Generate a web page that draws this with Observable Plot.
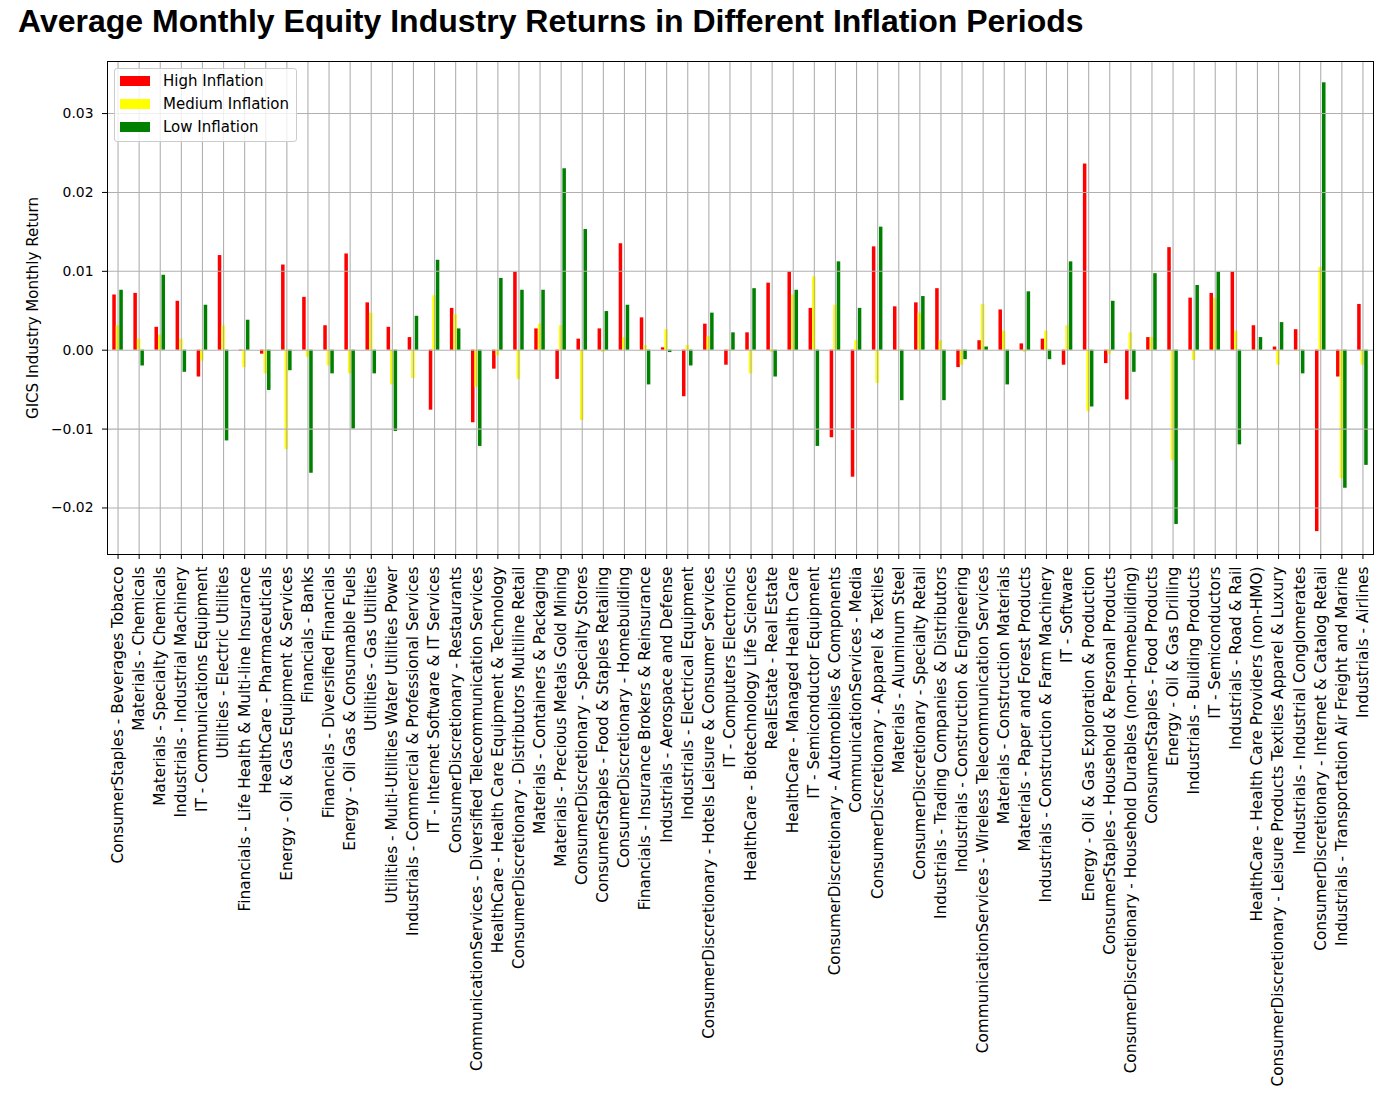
<!DOCTYPE html>
<html><head><meta charset="utf-8">
<script src="https://cdn.jsdelivr.net/npm/d3@7"></script>
<script src="https://cdn.jsdelivr.net/npm/@observablehq/plot@0.6"></script>
<style>
body{margin:0;background:#fff;}
#wrap{position:relative;width:1389px;height:1109px;}
#title{position:absolute;left:18px;top:5px;font-family:"Liberation Sans",Arial,sans-serif;font-weight:bold;font-size:32px;line-height:1;color:#000;white-space:nowrap;}
#legend{position:absolute;left:114px;top:68px;width:181px;height:72px;border:1px solid #cccccc;border-radius:3px;background:rgba(255,255,255,0.8);font-family:"DejaVu Sans",sans-serif;font-size:15px;color:#000;}
.sw{position:absolute;left:5px;width:30px;height:10px;}
.lt{position:absolute;left:48px;line-height:16px;white-space:nowrap;}
#chart svg{display:block;}
#chart g[aria-label="x-axis tick label"] text{font-size:15.3px;}
#chart g[aria-label="y-axis label"] text{font-size:15px;}
</style></head>
<body>
<div id="wrap">
<div id="chart"></div>
<div id="title">Average Monthly Equity Industry Returns in Different Inflation Periods</div>
<div id="legend"></div>
</div>
<script>
const categories = [
"ConsumerStaples - Beverages Tobacco","Materials - Chemicals","Materials - Specialty Chemicals","Industrials - Industrial Machinery","IT - Communications Equipment","Utilities - Electric Utilities","Financials - Life Health & Multi-line Insurance","HealthCare - Pharmaceuticals","Energy - Oil & Gas Equipment & Services","Financials - Banks",
"Financials - Diversified Financials","Energy - Oil Gas & Consumable Fuels","Utilities - Gas Utilities","Utilities - Multi-Utilities Water Utilities Power","Industrials - Commercial & Professional Services","IT - Internet Software & IT Services","ConsumerDiscretionary - Restaurants","CommunicationServices - Diversified Telecommunication Services","HealthCare - Health Care Equipment & Technology","ConsumerDiscretionary - Distributors Multiline Retail",
"Materials - Containers & Packaging","Materials - Precious Metals Gold Mining","ConsumerDiscretionary - Specialty Stores","ConsumerStaples - Food & Staples Retailing","ConsumerDiscretionary - Homebuilding","Financials - Insurance Brokers & Reinsurance","Industrials - Aerospace and Defense","Industrials - Electrical Equipment","ConsumerDiscretionary - Hotels Leisure & Consumer Services","IT - Computers Electronics",
"HealthCare - Biotechnology Life Sciences","RealEstate - Real Estate","HealthCare - Managed Health Care","IT - Semiconductor Equipment","ConsumerDiscretionary - Automobiles & Components","CommunicationServices - Media","ConsumerDiscretionary - Apparel & Textiles","Materials - Aluminum Steel","ConsumerDiscretionary - Specialty Retail","Industrials - Trading Companies & Distributors",
"Industrials - Construction & Engineering","CommunicationServices - Wireless Telecommunication Services","Materials - Construction Materials","Materials - Paper and Forest Products","Industrials - Construction & Farm Machinery","IT - Software","Energy - Oil & Gas Exploration & Production","ConsumerStaples - Household & Personal Products","ConsumerDiscretionary - Household Durables (non-Homebuilding)","ConsumerStaples - Food Products",
"Energy - Oil & Gas Drilling","Industrials - Building Products","IT - Semiconductors","Industrials - Road & Rail","HealthCare - Health Care Providers (non-HMO)","ConsumerDiscretionary - Leisure Products Textiles Apparel & Luxury","Industrials - Industrial Conglomerates","ConsumerDiscretionary - Internet & Catalog Retail","Industrials - Transportation Air Freight and Marine","Industrials - Airlines"
];
const highInflation = [
0.0070,0.0072,0.0029,0.0062,-0.0034,0.0120,-0.0001,-0.0005,0.0108,0.0067,
0.0031,0.0122,0.0060,0.0029,0.0016,-0.0076,0.0053,-0.0092,-0.0024,0.0099,
0.0027,-0.0037,0.0014,0.0027,0.0135,0.0041,0.0003,-0.0059,0.0033,-0.0019,
0.0022,0.0085,0.0099,0.0053,-0.0111,-0.0161,0.0131,0.0055,0.0060,0.0078,
-0.0022,0.0012,0.0051,0.0008,0.0014,-0.0019,0.0236,-0.0017,-0.0063,0.0016,
0.0130,0.0066,0.0072,0.0099,0.0031,0.0004,0.0026,-0.0230,-0.0034,0.0058];
const mediumInflation = [
0.0031,0.0014,0.0019,0.0014,-0.0014,0.0031,-0.0022,-0.0030,-0.0126,-0.0009,
-0.0020,-0.0030,0.0047,-0.0044,-0.0036,0.0069,0.0045,-0.0047,-0.0007,-0.0037,
0.0033,0.0031,-0.0089,-0.0003,0.0016,0.0006,0.0026,0.0006,0.0017,0.0001,
-0.0030,-0.0003,0.0070,0.0093,0.0057,0.0012,-0.0042,0.0001,0.0047,0.0012,
-0.0019,0.0058,0.0024,-0.0003,0.0024,0.0031,-0.0078,-0.0005,0.0022,0.0016,
-0.0140,-0.0013,0.0066,0.0024,0.0001,-0.0019,0.0001,0.0105,-0.0163,-0.0019];
const lowInflation = [
0.0076,-0.0020,0.0095,-0.0028,0.0057,-0.0115,0.0038,-0.0051,-0.0026,-0.0156,
-0.0030,-0.0100,-0.0030,-0.0103,0.0043,0.0114,0.0027,-0.0122,0.0091,0.0076,
0.0076,0.0230,0.0153,0.0049,0.0057,-0.0044,-0.0003,-0.0020,0.0047,0.0022,
0.0078,-0.0034,0.0076,-0.0122,0.0112,0.0053,0.0156,-0.0064,0.0068,-0.0064,
-0.0012,0.0004,-0.0044,0.0074,-0.0012,0.0112,-0.0072,0.0062,-0.0028,0.0097,
-0.0221,0.0082,0.0099,-0.0120,0.0016,0.0035,-0.0030,0.0339,-0.0175,-0.0146];
const seriesNames = ["High Inflation","Medium Inflation","Low Inflation"];
const seriesColors = ["#ff0000","#ffff00","#008000"];
const yTicks = [-0.02,-0.01,0.00,0.01,0.02,0.03];

const seriesValues = [highInflation, mediumInflation, lowInflation];
const table = [];
categories.forEach((c, i) => seriesValues.forEach((vals, j) =>
  table.push({i, j, category: c, series: seriesNames[j], value: vals[i]})));
const bw = 0.5 / 3;
const idx = d3.range(categories.length);

const chart = Plot.plot({
  width: 1389, height: 1105,
  marginTop: 61, marginBottom: 551, marginLeft: 107, marginRight: 16,
  style: {fontFamily: "DejaVu Sans, sans-serif", fontSize: "13.9px", color: "#000", background: "#fff"},
  x: {domain: [-0.5, categories.length - 0.5]},
  y: {domain: [-0.0259, 0.0366]},
  color: {domain: seriesNames, range: seriesColors},
  marks: [
    Plot.rect(table, {
      x1: d => d.i + (d.j - 1) * bw - bw / 2,
      x2: d => d.i + (d.j - 1) * bw + bw / 2,
      y1: d => 0, y2: "value", fill: "series"
    }),
    Plot.gridX(idx, {stroke: "#b0b0b0", strokeOpacity: 1, strokeWidth: 1.1}),
    Plot.gridY(yTicks, {stroke: "#b0b0b0", strokeOpacity: 1, strokeWidth: 1.1}),
    Plot.frame({stroke: "#000", strokeWidth: 1}),
    Plot.axisX({ticks: idx, tickFormat: i => categories[i], tickRotate: -90, tickSize: 5, tickPadding: 7, label: null, ariaLabel: "x-axis"}),
    Plot.axisY({ticks: yTicks, tickFormat: d3.format(".2f"), tickSize: 5, tickPadding: 9,
      label: "GICS Industry Monthly Return", labelAnchor: "center", labelArrow: "none", labelOffset: 80})
  ]
});
document.getElementById("chart").appendChild(chart);

const legend = document.getElementById("legend");
const rowCenters = [12, 35.3, 57.7];
seriesNames.forEach((s, j) => {
  const sw = document.createElement("div");
  sw.className = "sw"; sw.style.background = seriesColors[j]; sw.style.top = (rowCenters[j] - 5) + "px";
  const t = document.createElement("div");
  t.className = "lt"; t.textContent = s; t.style.top = (rowCenters[j] - 8) + "px";
  legend.appendChild(sw); legend.appendChild(t);
});
</script>
</body></html>
